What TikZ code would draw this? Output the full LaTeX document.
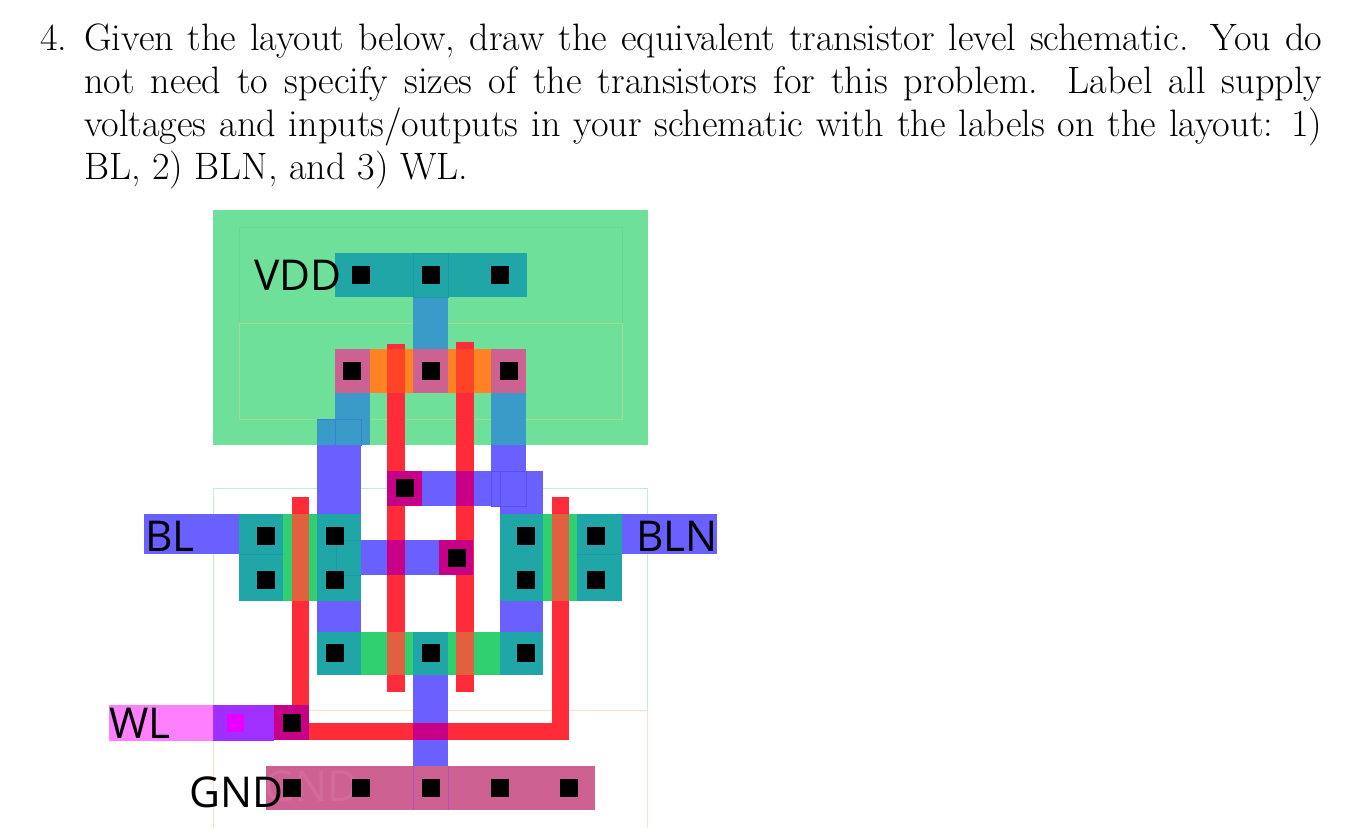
\documentclass[tikz,border=0pt]{standalone}
\usepackage{fontspec}
\newfontfamily\layoutfont{Open Sans}
\definecolor{nwell}{HTML}{6EE09A}
\definecolor{tealc}{HTML}{20A6A6}
\definecolor{pinkc}{HTML}{CD6292}
\definecolor{orangec}{HTML}{FF8225}
\definecolor{redc}{HTML}{FF2B38}
\definecolor{polyorange}{HTML}{FF4428}
\definecolor{bluegreen}{HTML}{3A9AC8}
\definecolor{bluec}{HTML}{6A60FF}
\definecolor{magentac}{HTML}{C80088}
\definecolor{purplec}{HTML}{A030FF}
\definecolor{wlpink}{HTML}{FF80FF}
\definecolor{greenc}{HTML}{30D070}
\definecolor{brownc}{HTML}{E06040}
\definecolor{viac}{HTML}{E800FF}
\definecolor{mintline}{HTML}{BEF0D6}
\definecolor{peachline}{HTML}{FFDFC6}
\definecolor{wellgreen}{HTML}{62DA94}
\definecolor{wellorange}{HTML}{A6DA8E}
\definecolor{tealline}{HTML}{1C98A8}
\definecolor{blueline}{HTML}{5650F0}
\definecolor{metaledge}{HTML}{3A80D8}
\definecolor{ghost}{HTML}{D36C9A}
\newcommand{\lay}[5]{\fill[#5] (#1,#2) rectangle (#3,#4);}
\newcommand{\thin}[5]{\draw[#5,line width=1pt] (#1,#2) rectangle (#3,#4);}
\newcommand{\ct}[2]{\fill[black] (#1,#2) rectangle ++(17.5,17.5);}
\tikzset{
  question/.style={anchor=base west,inner sep=0pt,text width=1238pt,align=justify},
  laylabel/.style={anchor=base west,inner sep=0pt,font=\layoutfont\fontsize{42.5}{42.5}\selectfont}
}
\begin{document}
\begin{tikzpicture}[x=1pt,y=-1pt]
\useasboundingbox (0,0) rectangle (1368,838);
\fill[white] (0,0) rectangle (1368,838);
% wells and outlines
\lay{213}{210}{648}{445}{nwell}
\thin{239}{227}{622}{323}{wellgreen}
\thin{239}{323}{622}{419}{wellorange}
\thin{213}{488}{647}{710}{mintline}
\draw[peachline,line width=1pt] (213,710) -- (647,710) -- (647,828) (213,710) -- (213,828);
% vertical metal
\lay{413}{253}{448}{349}{bluegreen}
\lay{335}{393}{370}{445}{bluegreen}
\lay{317}{419}{335}{445}{bluegreen}
\lay{491}{393}{526}{445}{bluegreen}
\thin{335}{419}{361}{445}{metaledge}
\draw[metaledge,line width=1pt] (317,419) -- (335,419);
\lay{317}{445}{361}{514}{bluec}
\lay{491}{445}{526}{471}{bluec}
\lay{317}{601}{361}{632}{bluec}
\lay{500}{601}{543}{632}{bluec}
\lay{500}{471}{543}{514}{bluec}
\lay{422}{471}{543}{506}{bluec}
\lay{361}{540}{439}{575}{bluec}
\lay{413}{675}{448}{766}{bluec}
\lay{144}{514}{240}{554}{bluec}
\lay{622}{514}{717}{554}{bluec}
% VDD rail
\lay{335}{253}{527}{297}{tealc}
\thin{413}{253}{448}{297}{tealline}
% PMOS
\lay{370}{349}{491}{393}{orangec}
\lay{335}{349}{370}{393}{pinkc}
\lay{413}{349}{448}{393}{pinkc}
\lay{491}{349}{526}{393}{pinkc}
% NMOS pass left and right
\lay{283}{514}{317}{601}{greenc}
\lay{239}{514}{283}{601}{tealc}
\lay{317}{514}{361}{601}{tealc}
\lay{543}{514}{577}{601}{greenc}
\lay{500}{514}{543}{601}{tealc}
\lay{577}{514}{622}{601}{tealc}
\draw[tealline,line width=.7pt] (239,554) -- (283,554) (336,540) -- (361,540) (336,540) -- (336,575) -- (361,575) (577,554) -- (622,554);
% NMOS bottom
\lay{361}{632}{500}{675}{greenc}
\lay{317}{632}{361}{675}{tealc}
\lay{413}{632}{448}{675}{tealc}
\lay{500}{632}{543}{675}{tealc}
% poly
\lay{387}{344}{405}{692}{redc}
\lay{456}{342}{474}{692}{redc}
\lay{292}{497}{309}{705}{redc}
\lay{552}{497}{569}{740}{redc}
\lay{309}{723}{569}{740}{redc}
\lay{387}{349}{405}{393}{polyorange}
\lay{456}{349}{474}{393}{polyorange}
\lay{292}{514}{309}{601}{brownc}
\lay{552}{514}{569}{601}{brownc}
\lay{387}{632}{405}{675}{brownc}
\lay{456}{632}{474}{675}{brownc}
% poly contacts and crossings
\lay{387}{471}{422}{506}{magentac}
\lay{456}{471}{474}{506}{magentac}
\lay{387}{540}{405}{575}{magentac}
\lay{439}{540}{473}{575}{magentac}
\lay{413}{723}{448}{740}{magentac}
\lay{274}{705}{309}{740}{magentac}
\thin{491}{471}{500}{506}{blueline}
\thin{500}{471}{526}{506}{blueline}
% WL
\lay{109}{705}{213}{741}{wlpink}
\lay{213}{705}{274}{741}{purplec}
\lay{227}{714}{244}{732}{viac}
% GND rail
\lay{266}{766}{595}{810}{pinkc}
\draw[purplec!50!pinkc,line width=.7pt] (413,766) -- (413,810) (448,766) -- (448,810);
\node[laylabel,text=ghost] (gndghost) at (264,801) {GND};
% contacts
\ct{352}{266}\ct{422}{266}\ct{491}{266}
\ct{343}{362}\ct{422}{362}\ct{500}{362}
\ct{396}{479}\ct{448}{549}
\ct{257}{527}\ct{257}{571}\ct{326}{527}\ct{326}{571}
\ct{517}{527}\ct{517}{571}\ct{587}{527}\ct{587}{571}
\ct{326}{644}\ct{422}{644}\ct{517}{644}
\ct{283}{714}
\ct{283}{779}\ct{352}{779}\ct{422}{779}\ct{491}{779}\ct{560}{779}
% labels
\node[laylabel] (vdd) at (254,290) {VDD};
\node[laylabel] (bl) at (145,551) {BL};
\node[laylabel] (bln) at (636,551) {BLN};
\node[laylabel] (wl) at (109,738) {WL};
\node[laylabel] (gnd) at (189,807) {GND};
% question text
\node[anchor=base west,inner sep=0pt] (num) at (40,50) {\fontsize{38.2}{43.3}\selectfont 4.};
\node[question] (qtext) at (84,50) {\fontsize{38.2}{43.3}\selectfont Given the layout below, draw the equivalent transistor level schematic. You do\linebreak not need to specify sizes of the transistors for this problem. Label all supply\linebreak voltages and inputs/outputs in your schematic with the labels on the layout: 1)\linebreak BL, 2) BLN, and 3) WL.\par};
\end{tikzpicture}
\end{document}
